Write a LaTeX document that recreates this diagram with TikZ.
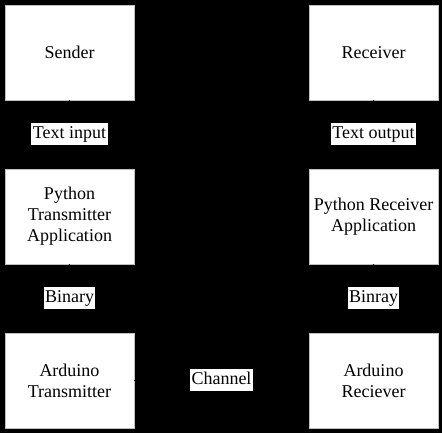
\documentclass[tikz,border=0pt]{standalone}
\usepackage{fontspec}
\setmainfont{Liberation Serif}
\begin{document}
\begin{tikzpicture}[x=1pt, y=1pt,
    box/.style={fill=white, draw=gray!50, line width=0.4pt, minimum width=129pt, minimum height=95pt, inner sep=0pt, align=center, font=\fontsize{18}{21}\selectfont},
    lbl/.style={fill=white, inner sep=1.5pt, text height=14pt, text depth=5pt, font=\fontsize{18}{21}\selectfont},
    flow/.style={->, black, thick}]
    % Sfondo
    \useasboundingbox (0,0) rectangle (442,433);
    \fill[black] (0,0) rectangle (442,433);

    % Blocchi
    \node[box] (snd) at (69.5,380.5) {Sender};
    \node[box] (ptx) at (69.5,216.5) {Python\\Transmitter\\Application};
    \node[box] (atx) at (69.5,52.5) {Arduino\\Transmitter};
    \node[box] (rcv) at (373.5,380.5) {Receiver};
    \node[box] (prx) at (373.5,216.5) {Python Receiver\\Application};
    \node[box] (arx) at (373.5,52.5) {Arduino\\Reciever};

    % Collegamenti
    \draw[flow] (snd) -- node[lbl] {Text input} (ptx);
    \draw[flow] (ptx) -- node[lbl] {Binary} (atx);
    \draw[flow] (atx) -- node[lbl] {Channel} (arx);
    \draw[flow] (arx) -- node[lbl] {Binray} (prx);
    \draw[flow] (prx) -- node[lbl] {Text output} (rcv);

\end{tikzpicture}
\end{document}
